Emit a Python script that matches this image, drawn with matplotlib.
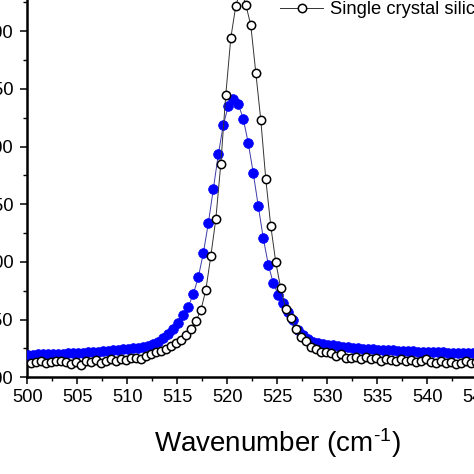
import matplotlib
matplotlib.use('Agg')
import matplotlib.pyplot as plt
from matplotlib.ticker import MultipleLocator

plt.rcParams['font.family'] = ['Liberation Sans', 'DejaVu Sans']
plt.rcParams['mathtext.default'] = 'regular'

# ---- data ----
crystal_x = [500.35, 500.85, 501.35, 501.85, 502.35, 502.85, 503.35, 503.85, 504.35, 504.85,
             505.35, 505.85, 506.35, 506.85, 507.35, 507.85, 508.35, 508.85, 509.35, 509.85,
             510.35, 510.85, 511.35, 511.85, 512.35, 512.85, 513.35, 513.85, 514.35, 514.85,
             515.35, 515.85, 516.35, 516.85, 517.35, 517.85, 518.35, 518.85, 519.35, 519.85,
             520.35, 520.85, 521.35, 521.85, 522.35, 522.85, 523.35, 523.85, 524.35, 524.85,
             525.35, 525.85, 526.35, 526.85, 527.35, 527.85, 528.35, 528.85, 529.35, 529.85,
             530.35, 530.85, 531.35, 531.85, 532.35, 532.85, 533.35, 533.85, 534.35, 534.85,
             535.35, 535.85, 536.35, 536.85, 537.35, 537.85, 538.35, 538.85, 539.35, 539.85,
             540.35, 540.85, 541.35, 541.85, 542.35, 542.85, 543.35, 543.85, 544.35, 544.85]
crystal_y = [112.5, 113.5, 114.0, 112.8, 113.0, 113.8, 114.5, 113.2, 111.8, 113.5,
             111.0, 114.5, 113.0, 115.2, 112.5, 114.5, 115.5, 114.0, 116.0, 115.0,
             116.5, 117.0, 116.0, 118.5, 120.2, 121.7, 122.8, 124.3, 127.0, 129.5,
             132.5, 136.5, 141.5, 148.5, 158.0, 175.5, 205.0, 237.0, 285.0, 345.0,
             394.0, 422.0, 436.0, 423.0, 405.0, 364.0, 323.0, 271.5, 231.0, 199.5,
             177.0, 159.5, 151.0, 142.0, 135.0, 131.5, 126.5, 124.3, 122.2, 121.9,
             120.8, 118.5, 120.2, 116.5, 117.0, 118.0, 116.0, 117.2, 115.5, 116.8,
             114.5, 116.0, 115.0, 113.8, 116.2, 114.0, 115.2, 113.0, 114.5, 115.5,
             113.2, 112.5, 114.0, 112.0, 113.5, 111.5, 112.8, 114.0, 112.5, 113.0]

sample_x = [500.1, 500.6, 501.1, 501.6, 502.1, 502.6, 503.1, 503.6, 504.1, 504.6,
            505.1, 505.6, 506.1, 506.6, 507.1, 507.6, 508.1, 508.6, 509.1, 509.6,
            510.1, 510.6, 511.1, 511.6, 512.1, 512.6, 513.1, 513.6, 514.1, 514.6,
            515.1, 515.6, 516.1, 516.6, 517.1, 517.6, 518.1, 518.6, 519.1, 519.6,
            520.1, 520.6, 521.1, 521.6, 522.1, 522.6, 523.1, 523.6, 524.1, 524.6,
            525.1, 525.6, 526.1, 526.6, 527.1, 527.6, 528.1, 528.6, 529.1, 529.6,
            530.1, 530.6, 531.1, 531.6, 532.1, 532.6, 533.1, 533.6, 534.1, 534.6,
            535.1, 535.6, 536.1, 536.6, 537.1, 537.6, 538.1, 538.6, 539.1, 539.6,
            540.1, 540.6, 541.1, 541.6, 542.1, 542.6, 543.1, 543.6, 544.1, 544.6, 545.1]
sample_y = [119.5, 119.6, 119.8, 119.9, 120.1, 120.2, 120.4, 120.6, 120.8, 121.0,
            121.2, 121.4, 121.7, 122.0, 122.3, 122.6, 122.9, 123.3, 123.7, 124.1,
            124.6, 125.2, 125.8, 126.6, 127.5, 128.6, 130.8, 133.8, 137.3, 141.6,
            146.8, 153.6, 161.2, 172.0, 186.7, 207.5, 233.4, 262.9, 293.2, 318.6,
            335.1, 341.2, 336.8, 323.8, 302.8, 276.8, 248.2, 220.5, 197.6, 181.5,
            171.3, 164.1, 157.0, 150.0, 141.0, 136.7, 132.9, 130.8, 129.8, 129.0,
            128.2, 127.6, 127.0, 126.5, 126.0, 125.6, 125.2, 124.9, 124.6, 124.3,
            124.0, 123.8, 123.5, 123.3, 123.1, 122.9, 122.7, 122.5, 122.3, 122.2,
            122.0, 121.8, 121.7, 121.5, 121.4, 121.2, 121.1, 121.0, 120.9, 120.8, 120.7]

crystal_label = 'Single crystal silicon'
x_limits = (500, 550)
y_limits = (100, 500)

# ---- figure ----
W = H = 474
fig = plt.figure(figsize=(W / 100, H / 100), dpi=100)
# axes extends beyond the visible canvas (the reference is a crop)
left_px, right_px = 27.3, 527.3
bottom_px_from_top, top_px_from_top = 377.3, -84.3
ax = fig.add_axes([left_px / W, 1 - bottom_px_from_top / H,
                   (right_px - left_px) / W,
                   (bottom_px_from_top - top_px_from_top) / H])

ax.plot(sample_x, sample_y, '-', color='#3a3aa8', lw=0.7, zorder=2)
ax.plot(sample_x, sample_y, 'o', ls='none', ms=7.0, mfc='#0000ff', mec='#0000ff',
        mew=0.5, zorder=3)
line_c, = ax.plot(crystal_x, crystal_y, '-', color='#333333', lw=0.7, marker='o',
                  ms=6.0, mfc='white', mec='black', mew=1.1, zorder=4,
                  label=crystal_label)

ax.set_xlim(*x_limits)
ax.set_ylim(*y_limits)
ax.xaxis.set_major_locator(MultipleLocator(5))
ax.xaxis.set_minor_locator(MultipleLocator(2.5))
ax.yaxis.set_major_locator(MultipleLocator(50))
ax.yaxis.set_minor_locator(MultipleLocator(25))
ax.tick_params(which='major', direction='out', length=5, width=1.1,
               labelsize=13.2, color='black')
ax.tick_params(which='minor', direction='out', length=3, width=1.0)
ax.tick_params(axis='x', which='major', pad=3.5)
ax.tick_params(axis='y', which='major', pad=5)
for s in ax.spines.values():
    s.set_linewidth(1.8)

ax.set_xlabel('Wavenumber (cm$^{\u2010 1}$)', fontsize=20)
ax.xaxis.label.set_va('baseline')
ax.xaxis.set_label_coords(0.5, (bottom_px_from_top - 451.7) / (bottom_px_from_top - top_px_from_top))

leg = ax.legend(handles=[line_c], loc='center left',
                bbox_to_anchor=(280 / W, 1 - 10 / H), bbox_transform=fig.transFigure,
                frameon=False, borderpad=0, borderaxespad=0, fontsize=13.2,
                handlelength=2.35, handletextpad=0.4)

fig.savefig('out.png', dpi=100)
